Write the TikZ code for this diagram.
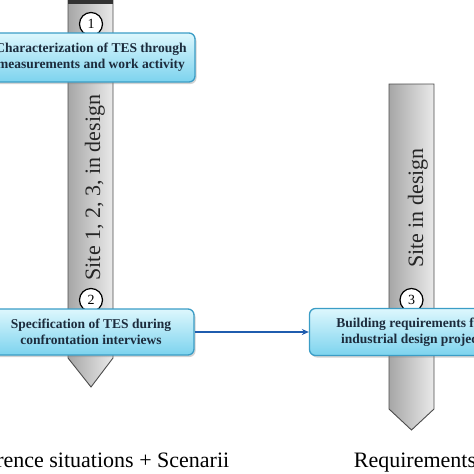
\documentclass[tikz,border=0pt]{standalone}
\usepackage{fontspec}
\setmainfont{Liberation Serif}
\usetikzlibrary{shadows,arrows.meta}
\definecolor{boxtop}{HTML}{DDF7FD}
\definecolor{boxbot}{HTML}{7CD3EE}
\definecolor{boxline}{HTML}{3B9DC6}
\definecolor{boxtext}{HTML}{1C2B3C}
\definecolor{arrowblue}{HTML}{1F5CAE}
\definecolor{bardark}{HTML}{A6A6A6}
\definecolor{barlight}{HTML}{EAEAEA}
\tikzset{
  x=1pt, y=-1pt,
  stepbox/.style={rounded corners=6pt, draw=boxline, line width=1.3pt,
    top color=boxtop, bottom color=boxbot, text=boxtext,
    font=\fontsize{13.5}{16}\selectfont\bfseries, align=center,
    inner sep=0pt,
    drop shadow={opacity=0.35, shadow xshift=1.5pt, shadow yshift=-2pt}},
  barshape/.style={draw=black!70, line width=0.9pt, left color=bardark, right color=barlight},
  numcirc/.style={circle, draw=black, line width=1.2pt, fill=white, minimum size=23pt,
    inner sep=0pt, font=\fontsize{14}{14}\selectfont},
  bartext/.style={rotate=90, anchor=base, font=\fontsize{22}{22}\selectfont, text=black!85},
  bottomtext/.style={anchor=base, font=\fontsize{22}{22}\selectfont, text=black},
  link/.style={draw=arrowblue, line width=1.3pt, -{Stealth[length=7pt,width=6pt]}}
}
\begin{document}
\begin{tikzpicture}
\useasboundingbox (0,0) rectangle (474,474);
\clip (0,0) rectangle (474,474);
% left bar
\path[barshape] (68,-3) -- (113,-3) -- (113,358) -- (91,387) -- (68,358) -- cycle;
\fill[black!80] (68,-3) rectangle (113,4);
% right bar
\path[barshape] (389,84) -- (434,84) -- (434,409) -- (411.5,430) -- (389,409) -- cycle;
% vertical texts
\node[bartext] (t1) at (100,187.5) {Site 1, 2, 3, in design};
\node[bartext] (t2) at (423,208) {Site in design};
% circles
\node[numcirc] (c1) at (91,24) {1};
\node[numcirc] (c2) at (91,300) {2};
\node[numcirc] (c3) at (411.5,300) {3};
% boxes
\node[stepbox, minimum width=208pt, minimum height=49pt] (b1) at (91,57.5)
  {Characterization of TES through\\measurements and work activity};
\node[stepbox, minimum width=206pt, minimum height=46pt] (b2) at (91,332)
  {Specification of TES during\\confrontation interviews};
\node[stepbox, minimum width=204pt, minimum height=47pt] (b3) at (411.5,332)
  {Building requirements for\\industrial design project};
% arrow
\draw[link] (b2) -- (b3);
% bottom texts
\node[bottomtext] (l1) at (92,467) {Reference situations + Scenarii};
\node[bottomtext] (l2) at (415,467) {Requirements};
\end{tikzpicture}
\end{document}
